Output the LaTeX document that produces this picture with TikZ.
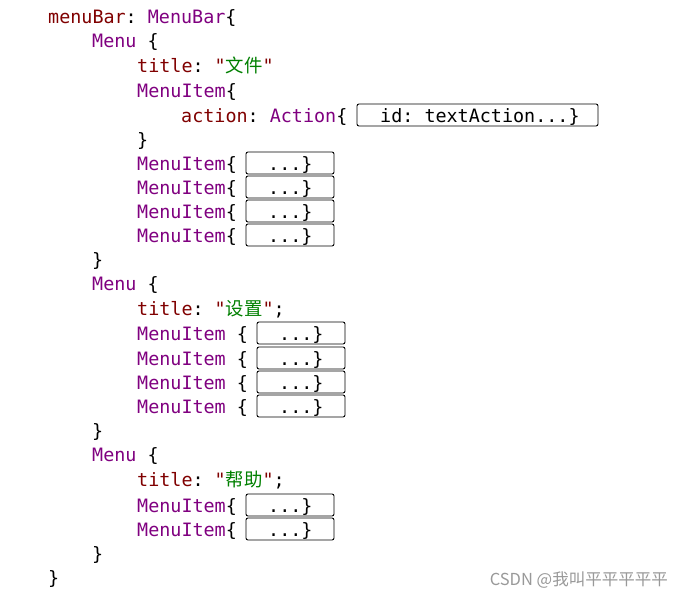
\documentclass[tikz,border=0pt]{standalone}
\usepackage{fontspec}
\setmonofont{DejaVu Sans Mono}
\newfontfamily\cjk{Noto Sans CJK SC}
\definecolor{kw}{HTML}{800000}
\definecolor{ty}{HTML}{800080}
\definecolor{st}{HTML}{008000}
\newcommand{\myK}[1]{\textcolor{kw}{#1}}
\newcommand{\myT}[1]{\textcolor{ty}{#1}}
\newcommand{\myS}[1]{\textcolor{kw}{"}\textcolor{st}{\cjk #1}\textcolor{kw}{"}}
\begin{document}
\begin{tikzpicture}[x=1pt,y=-1pt,
  ln/.style={anchor=west,inner sep=0pt,yshift=-1.5pt,font=\ttfamily\fontsize{18.4}{20}\selectfont},
  bx/.style={draw,rounded corners=2pt,line width=0.9pt}]
\useasboundingbox (0,0) rectangle (683,600);
\fill[white] (0,0) rectangle (683,600);
\node[ln] (l1) at (48,17) {\myK{menuBar}: \myT{MenuBar}\{};
\node[ln] (l2) at (92,41) {\myT{Menu} \{};
\node[ln] (l3) at (137,64) {\myK{title}: \myS{文件}};
\node[ln] (l4) at (137,91) {\myT{MenuItem}\{};
\node[ln] (l5) at (181,116) {\myK{action}: \myT{Action}\{};
\node[bx,minimum width=241,minimum height=22,inner sep=0pt] (b0) at (477.5,115) {};
\node[ln] (t0) at (380,116) {id: textAction...\}};
\node[ln] (l6) at (137,140) {\}};
\foreach \y/\n in {164/a,188/b,212/c,236/d}{
  \node[ln] (m\n) at (137,\y) {\myT{MenuItem}\{};
  \node[bx,minimum width=88,minimum height=22,inner sep=0pt] (bm\n) at (290,\y-1) {};
  \node[ln] at (268,\y) {...\}};
}
\node[ln] (l7) at (92,260) {\}};
\node[ln] (l8) at (92,284) {\myT{Menu} \{};
\node[ln] (l9) at (137,308) {\myK{title}: \myS{设置};};
\foreach \y/\n in {334/a,359/b,383/c,407/d}{
  \node[ln] (n\n) at (137,\y) {\myT{MenuItem} \{};
  \node[bx,minimum width=88,minimum height=22,inner sep=0pt] (bn\n) at (301,\y-1) {};
  \node[ln] at (279,\y) {...\}};
}
\node[ln] (l10) at (92,431) {\}};
\node[ln] (l11) at (92,455) {\myT{Menu} \{};
\node[ln] (l12) at (137,479) {\myK{title}: \myS{帮助};};
\foreach \y/\n in {506/a,530/b}{
  \node[ln] (p\n) at (137,\y) {\myT{MenuItem}\{};
  \node[bx,minimum width=88,minimum height=22,inner sep=0pt] (bp\n) at (290,\y-1) {};
  \node[ln] at (268,\y) {...\}};
}
\node[ln] (l13) at (92,554) {\}};
\node[ln] (l14) at (48,578) {\}};
\node[anchor=east,inner sep=0pt,text=gray!80,font=\cjk\fontsize{16.5}{18}\selectfont] (wm) at (668,580) {CSDN @我叫平平平平平};
\end{tikzpicture}
\end{document}
